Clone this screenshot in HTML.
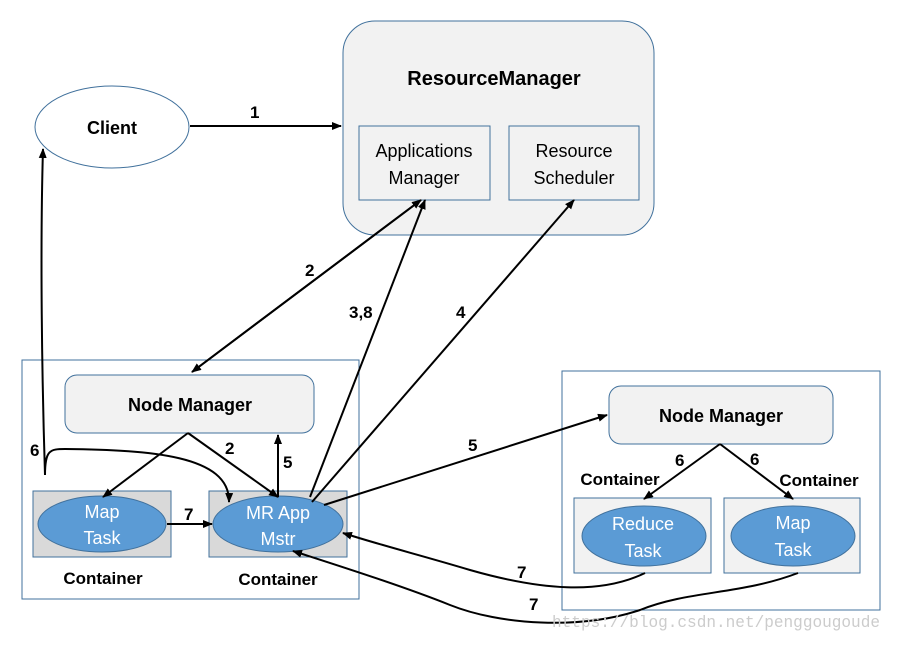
<!DOCTYPE html>
<html><head><meta charset="utf-8"><style>
html,body{margin:0;padding:0;background:#fff}
svg text{font-family:"Liberation Sans",sans-serif}
svg text.wm{font-family:"Liberation Mono",monospace}
</style></head><body>
<svg width="903" height="640" viewBox="0 0 903 640" xmlns="http://www.w3.org/2000/svg">
<defs><marker id="a" markerWidth="10" markerHeight="8" refX="9" refY="4" orient="auto" markerUnits="userSpaceOnUse"><path d="M0,0 L10,4 L0,8 z" fill="#000"/></marker></defs>
<rect x="343" y="21" width="311" height="214" rx="32" fill="#f2f2f2" stroke="#41719c"/>
<text x="494" y="85" font-size="20" font-weight="bold" text-anchor="middle">ResourceManager</text>
<rect x="359" y="126" width="131" height="74" fill="#f2f2f2" stroke="#41719c"/>
<text x="424" y="157" font-size="18" text-anchor="middle">Applications</text>
<text x="424" y="184" font-size="18" text-anchor="middle">Manager</text>
<rect x="509" y="126" width="130" height="74" fill="#f2f2f2" stroke="#41719c"/>
<text x="574" y="157" font-size="18" text-anchor="middle">Resource</text>
<text x="574" y="184" font-size="18" text-anchor="middle">Scheduler</text>
<ellipse cx="112" cy="127" rx="77" ry="41" fill="#fff" stroke="#41719c"/>
<text x="112" y="134" font-size="18" font-weight="bold" text-anchor="middle">Client</text>
<rect x="22" y="360" width="337" height="239" fill="#fff" stroke="#41719c"/>
<rect x="65" y="375" width="249" height="58" rx="12" fill="#f2f2f2" stroke="#41719c"/>
<text x="190" y="411" font-size="18" font-weight="bold" text-anchor="middle">Node Manager</text>
<rect x="33" y="491" width="138" height="66" fill="#d9d9d9" stroke="#41719c"/>
<ellipse cx="102" cy="524" rx="64" ry="28" fill="#5b9bd5" stroke="#41719c"/>
<text x="102" y="518" font-size="18" fill="#fff" text-anchor="middle">Map</text>
<text x="102" y="544" font-size="18" fill="#fff" text-anchor="middle">Task</text>
<rect x="209" y="491" width="138" height="66" fill="#d9d9d9" stroke="#41719c"/>
<ellipse cx="278" cy="524" rx="65" ry="28" fill="#5b9bd5" stroke="#41719c"/>
<text x="278" y="519" font-size="18" fill="#fff" text-anchor="middle">MR App</text>
<text x="278" y="545" font-size="18" fill="#fff" text-anchor="middle">Mstr</text>
<text x="103" y="584" font-size="17" font-weight="bold" text-anchor="middle">Container</text>
<text x="278" y="585" font-size="17" font-weight="bold" text-anchor="middle">Container</text>
<rect x="562" y="371" width="318" height="239" fill="#fff" stroke="#41719c"/>
<rect x="609" y="386" width="224" height="58" rx="12" fill="#f2f2f2" stroke="#41719c"/>
<text x="721" y="422" font-size="18" font-weight="bold" text-anchor="middle">Node Manager</text>
<rect x="574" y="498" width="137" height="75" fill="#f2f2f2" stroke="#41719c"/>
<ellipse cx="644" cy="536" rx="62" ry="30" fill="#5b9bd5" stroke="#41719c"/>
<text x="643" y="530" font-size="18" fill="#fff" text-anchor="middle">Reduce</text>
<text x="643" y="557" font-size="18" fill="#fff" text-anchor="middle">Task</text>
<rect x="724" y="498" width="136" height="75" fill="#f2f2f2" stroke="#41719c"/>
<ellipse cx="793" cy="536" rx="62" ry="30" fill="#5b9bd5" stroke="#41719c"/>
<text x="793" y="529" font-size="18" fill="#fff" text-anchor="middle">Map</text>
<text x="793" y="556" font-size="18" fill="#fff" text-anchor="middle">Task</text>
<text x="620" y="485" font-size="17" font-weight="bold" text-anchor="middle">Container</text>
<text x="819" y="486" font-size="17" font-weight="bold" text-anchor="middle">Container</text>
<g stroke="#000" stroke-width="2" fill="none">
<line x1="190" y1="126" x2="341" y2="126" marker-end="url(#a)"/>
<line x1="421" y1="200" x2="192" y2="372" marker-end="url(#a)"/>
<line x1="192" y1="372" x2="421" y2="200" marker-end="url(#a)"/>
<line x1="310" y1="497" x2="425" y2="200" marker-end="url(#a)"/>
<line x1="312" y1="502" x2="574" y2="200" marker-end="url(#a)"/>
<line x1="188" y1="433" x2="103" y2="497" marker-end="url(#a)"/>
<line x1="188" y1="433" x2="278" y2="497" marker-end="url(#a)"/>
<line x1="278" y1="497" x2="278" y2="435" marker-end="url(#a)"/>
<line x1="167" y1="524" x2="212" y2="524" marker-end="url(#a)"/>
<line x1="324" y1="505" x2="607" y2="415" marker-end="url(#a)"/>
<line x1="720" y1="444" x2="644" y2="499" marker-end="url(#a)"/>
<line x1="720" y1="444" x2="793" y2="499" marker-end="url(#a)"/>
<path d="M45,475 C42,380 40,250 43,149" marker-end="url(#a)"/>
<path d="M45,475 C45,450 50,449 65,449 C150,450 230,455 229,502" marker-end="url(#a)"/>
<path d="M645,573 C600,595 540,590 470,570 C420,555 380,545 343,533" marker-end="url(#a)"/>
<path d="M798,573 C740,595 690,590 640,610 C580,630 500,625 450,605 C400,585 330,563 293,551" marker-end="url(#a)"/>
</g>
<g font-size="17" font-weight="bold">
<text x="250" y="118">1</text><text x="305" y="276">2</text><text x="349" y="318">3,8</text>
<text x="456" y="318">4</text><text x="30" y="456">6</text><text x="225" y="454">2</text>
<text x="283" y="468">5</text><text x="184" y="520">7</text><text x="468" y="451">5</text>
<text x="675" y="466">6</text><text x="750" y="465">6</text><text x="517" y="578">7</text><text x="529" y="610">7</text>
</g>
<text class="wm" x="552" y="627" font-size="17" fill="#ccc" textLength="328" lengthAdjust="spacingAndGlyphs">https://blog.csdn.net/penggougoude</text>
</svg>
</body></html>
